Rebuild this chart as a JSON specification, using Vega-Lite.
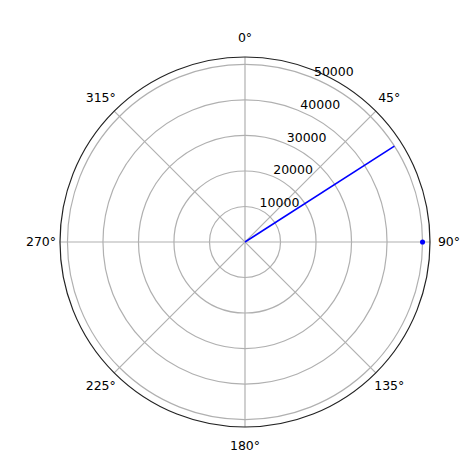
{
  "$schema": "https://vega.github.io/schema/vega-lite/v6.json",
  "width": 370,
  "height": 370,
  "autosize": {"type": "none"},
  "padding": {"left": 60, "top": 57, "right": 44, "bottom": 43},
  "background": "white",
  "config": {"view": {"stroke": null}, "text": {"font": "DejaVu Sans", "fontSize": 12.5, "color": "#000000"}},
  "layer": [
    {
      "data": {"values": [{"r": 10000}, {"r": 20000}, {"r": 30000}, {"r": 40000}, {"r": 50000}]},
      "mark": {"type": "arc", "theta": 0, "theta2": 6.2832, "fillOpacity": 0, "stroke": "#b0b0b0", "strokeWidth": 1.2},
      "encoding": {
        "radius": {"field": "r", "type": "quantitative", "stack": null, "scale": {"type": "linear", "domain": [0, 52100], "range": [0, 185], "zero": true, "nice": false}}
      }
    },
    {
      "data": {"values": [
        {"x": 0, "y": -52100, "x2": 0, "y2": 52100},
        {"x": -36840, "y": -36840, "x2": 36840, "y2": 36840},
        {"x": -52100, "y": 0, "x2": 52100, "y2": 0},
        {"x": -36840, "y": 36840, "x2": 36840, "y2": -36840}
      ]},
      "mark": {"type": "rule", "stroke": "#b0b0b0", "strokeWidth": 1.2},
      "encoding": {
        "x": {"field": "x", "type": "quantitative", "axis": null, "scale": {"domain": [-52100, 52100], "nice": false, "zero": false}},
        "y": {"field": "y", "type": "quantitative", "axis": null, "scale": {"domain": [-52100, 52100], "nice": false, "zero": false}},
        "x2": {"field": "x2"},
        "y2": {"field": "y2"}
      }
    },
    {
      "data": {"values": [{"r": 52100}]},
      "mark": {"type": "arc", "theta": 0, "theta2": 6.2832, "fillOpacity": 0, "stroke": "#222222", "strokeWidth": 1.2},
      "encoding": {
        "radius": {"field": "r", "type": "quantitative", "stack": null}
      }
    },
    {
      "data": {"values": [{"x": 0, "y": 0, "x2": 42074, "y2": 27015}]},
      "mark": {"type": "rule", "stroke": "#0000ff", "strokeWidth": 1.6},
      "encoding": {
        "x": {"field": "x", "type": "quantitative"},
        "y": {"field": "y", "type": "quantitative"},
        "x2": {"field": "x2"},
        "y2": {"field": "y2"}
      }
    },
    {
      "data": {"values": [{"x": 50000, "y": 0}]},
      "mark": {"type": "point", "filled": true, "shape": "circle", "size": 26, "color": "#0000ff", "opacity": 1},
      "encoding": {
        "x": {"field": "x", "type": "quantitative"},
        "y": {"field": "y", "type": "quantitative"}
      }
    },
    {
      "data": {"values": [
        {"deg": 0, "label": "0°"}, {"deg": 45, "label": "45°"}, {"deg": 90, "label": "90°"}, {"deg": 135, "label": "135°"},
        {"deg": 180, "label": "180°"}, {"deg": 225, "label": "225°"}, {"deg": 270, "label": "270°"}, {"deg": 315, "label": "315°"}
      ]},
      "mark": {"type": "text", "align": "center", "baseline": "middle"},
      "encoding": {
        "theta": {"field": "deg", "type": "quantitative", "stack": null, "scale": {"domain": [0, 360], "range": [0, 6.283185307179586], "zero": true, "nice": false}},
        "radius": {"value": 204},
        "text": {"field": "label"}
      }
    },
    {
      "data": {"values": [{"r": 10000, "label": "10000"}, {"r": 20000, "label": "20000"}, {"r": 30000, "label": "30000"}, {"r": 40000, "label": "40000"}, {"r": 50000, "label": "50000"}]},
      "mark": {"type": "text", "align": "left", "baseline": "bottom", "theta": 0.3927, "dx": 1, "dy": 1},
      "encoding": {
        "radius": {"field": "r", "type": "quantitative", "stack": null},
        "text": {"field": "label"}
      }
    }
  ]
}
